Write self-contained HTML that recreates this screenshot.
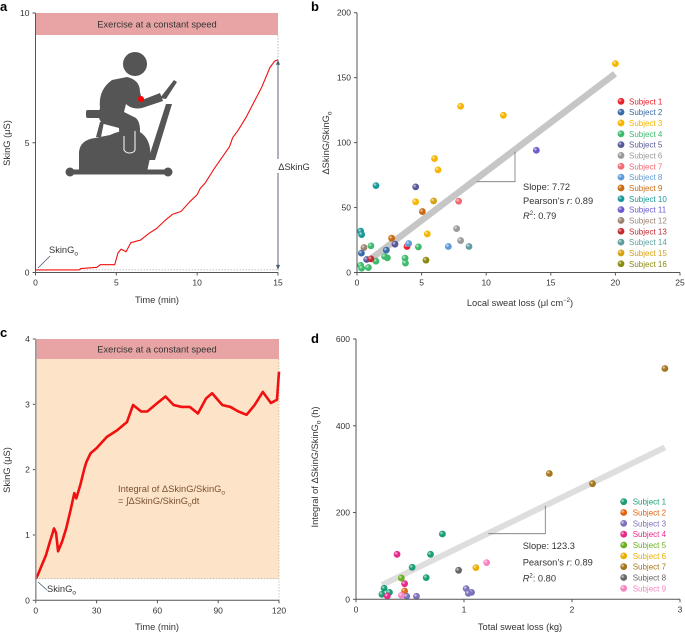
<!DOCTYPE html>
<html><head><meta charset="utf-8"><style>
html,body{margin:0;padding:0;background:#fff;}
svg{display:block;font-family:"Liberation Sans",sans-serif;}
</style></head><body>
<svg id="fig" width="685" height="635" viewBox="0 0 685 635" xmlns="http://www.w3.org/2000/svg">
<defs>
<radialGradient id="shine" cx="0.35" cy="0.35" r="0.65"><stop offset="0" stop-color="#fff" stop-opacity="0.75"/><stop offset="0.45" stop-color="#fff" stop-opacity="0"/></radialGradient>
</defs>
<!-- panel letters -->
<text x="0" y="11" font-size="13" font-weight="bold">a</text>
<text x="311" y="11" font-size="13" font-weight="bold">b</text>
<text x="0" y="337" font-size="13" font-weight="bold">c</text>
<text x="311" y="343" font-size="13" font-weight="bold">d</text>

<!-- Panel a static decor -->
<g id="panelA">
<rect x="36" y="13" width="242" height="22" fill="#e8a4a4"/>
<text x="157" y="27.5" font-size="9.3" text-anchor="middle" fill="#333">Exercise at a constant speed</text>
<g fill="#555">
<circle cx="135" cy="64" r="12"/>
<path d="M79,172 L79,152 Q80,140 95,138 L110,135 Q125,128 140,132 Q152,140 150,158 L147,172 Z"/>
<line x1="70" y1="172" x2="168" y2="172" stroke="#555" stroke-width="5"/>
<circle cx="70" cy="172" r="4.5"/><circle cx="168" cy="172" r="4.5"/>
<path d="M148,160 L166,104 L172,104 L155,160 Z"/>
<path d="M160,98 L174,80 L177,82 L166,99 Z"/>
<path d="M96,137 L100,122 L104,122 L101,137 Z"/>
<rect x="86" y="110" width="16" height="8" rx="2"/>
<path d="M100,108 Q98,90 112,80 L127,77 Q140,80 140,92 L142,100 L160,93 L163,101 L142,108 Q132,110 126,104 L124,112 L136,118 Q140,122 140,130 L139,150 Q136,156 129,156 Q122,156 120,150 L119,128 L104,124 Q96,120 100,108 Z"/>
<path d="M124,136 L124,150 Q126,153 129,153 Q134,153 135,150 L135,131" fill="none" stroke="#fff" stroke-width="1"/>
</g>
<circle cx="141" cy="99" r="3" fill="#f00"/>
</g>

<!-- Panel c decor -->
<g id="panelC"></g>
<g id="panelB"></g>
<g id="panelD"></g>
</svg>
<script>
// ---------- DATA ----------
// Panel a: SkinG trace (time min, SkinG μS)
const aTime = [0,2.7,2.8,3.8,4.0,4.5,4.9,5.1,5.3,5.6,5.9,6.5,7.0,7.5,8.0,8.5,9.0,9.5,10,10.2,10.5,11,11.5,12,12.2,12.5,13,13.5,14,14.5,14.8,15];
const aSkinG = [0.1,0.1,0.15,0.2,0.3,0.3,0.3,0.75,0.9,0.8,1.15,1.25,1.5,1.7,2.0,2.25,2.35,2.7,3.0,3.25,3.45,3.95,4.4,4.85,5.2,5.45,5.95,6.55,7.15,7.9,8.15,8.2];
const aXTicks = [0,5,10,15];
const aYTicks = [0,5,10];
// Panel c: SkinG trace over 120 min
const cTime = [0,1,3,5,7,9,10,11,13,15,17,19,20,22,24,25,27,30,35,40,45,48,52,55,60,64,68,72,76,80,84,87,92,96,100,104,108,112,116,119,120];
const cSkinG = [0.33,0.39,0.54,0.69,0.9,1.1,1.03,0.75,0.9,1.1,1.36,1.64,1.56,1.77,2.02,2.12,2.25,2.33,2.5,2.6,2.73,2.99,2.89,2.89,3.02,3.12,2.99,2.96,2.96,2.86,3.09,3.17,2.99,2.96,2.89,2.84,2.99,3.19,3.02,3.07,3.5];
const cXTicks = [0,30,60,90,120];
const cYTicks = [0,1,2,3,4];
// Panel b
const bSubjects = ["Subject 1","Subject 2","Subject 3","Subject 4","Subject 5","Subject 6","Subject 7","Subject 8","Subject 9","Subject 10","Subject 11","Subject 12","Subject 13","Subject 14","Subject 15","Subject 16"];
const bColors = ["#e8202a","#3a6aa8","#f7b500","#3dba6c","#58589a","#9a9a9a","#f26a72","#5e9ad6","#c86a12","#1a9898","#6a5ccc","#9c8474","#c22a30","#5f9ea0","#d4a214","#8a8a10"];
const bX = [[3.87],[0.34,2.27],[20.0,8.02,11.33,6.0,6.27,4.54,5.44],[1.08,1.47,2.35,2.14,3.72,3.75,4.75,0.28,0.88,0.36],[4.54,2.94,0.75],[7.71,8.02],[7.87],[4.0,7.07],[5.06,2.68],[1.47,0.28,0.36],[13.88],[0.54],[1.08],[8.67],[5.93],[5.34]];
const bY = [[20],[14.9,17.2],[160.8,128,121,87.7,79,54.4,29.7],[20.5,8.7,11.3,12.3,11,7.2,19.7,5.6,3.8,3.3],[65.9,21.8,10],[33.8,24.6],[54.9],[22.3,20],[46.9,26.4],[66.9,31.8,29.2],[94.1],[19.2],[10.5],[20],[55.1],[9.5]];
const bFitX = [1.14,19.97];
const bFitY = [11,153];
const bXTicks = [0,5,10,15,20,25];
const bYTicks = [0,50,100,150,200];
// Panel d
const dSubjects = ["Subject 1","Subject 2","Subject 3","Subject 4","Subject 5","Subject 6","Subject 7","Subject 8","Subject 9"];
const dColors = ["#1b9e77","#e0650c","#7a72bb","#e7298a","#6aae22","#eaae02","#a6761d","#666666","#f585c0"];
const dX = [[0.80,0.69,0.52,0.65,0.26,0.31,0.24],[0.45],[1.02,1.07,1.04,0.56,0.47],[0.38,0.45,0.29],[0.42],[1.11],[2.86,1.79,2.19],[0.95],[1.21,0.42]];
const dY = [[150.6,103.7,73.7,49.9,25.4,16,11.5],[19.2],[24.6,16,13.8,6.9,6.9],[103.7,36,7.7],[49],[73],[532,290,266.5],[66.8],[84.5,9.2]];
const dFitX = [0.24,2.86];
const dFitY = [33,350];
const dXTicks = [0,1,2,3];
const dYTicks = [0,200,400,600];

// ---------- helpers ----------
const NS = "http://www.w3.org/2000/svg";
function mk(parent, tag, attrs, text){
  const e = document.createElementNS(NS, tag);
  for (const k in attrs) e.setAttribute(k, attrs[k]);
  if (text !== undefined) e.textContent = text;
  parent.appendChild(e);
  return e;
}
function lin(d0,d1,p0,p1){ return v => p0 + (v-d0)*(p1-p0)/(d1-d0); }

function axes(g, sx, sy, xt, yt, x0, x1, y0, y1, prefix){
  const ax = mk(g,"line",{x1:sx(x0),y1:sy(y0),x2:sx(x1),y2:sy(y0),stroke:"#555","stroke-width":1});
  
  
  const ay = mk(g,"line",{x1:sx(x0),y1:sy(y0),x2:sx(x0),y2:sy(y1),stroke:"#555","stroke-width":1});
  
  
  xt.forEach(v=>{
    mk(g,"line",{x1:sx(v),y1:sy(y0),x2:sx(v),y2:sy(y0)+3,stroke:"#555","stroke-width":1});
    const t = mk(g,"text",{x:sx(v),y:sy(y0)+13,"font-size":8.5,"text-anchor":"middle",fill:"#333"}, String(v));
    
    
  });
  yt.forEach(v=>{
    mk(g,"line",{x1:sx(x0)-3,y1:sy(v),x2:sx(x0),y2:sy(v),stroke:"#555","stroke-width":1});
    const t = mk(g,"text",{x:sx(x0)-6,y:sy(v)+3,"font-size":8.5,"text-anchor":"end",fill:"#333"}, String(v));
    
    
  });
}
function ball(g, x, y, color, name){
  const c = mk(g,"circle",{cx:x,cy:y,r:3.4,fill:color});
  
  
  mk(g,"circle",{cx:x,cy:y,r:3.4,fill:"url(#shine)"});
}

// ---------- Panel A ----------
(function(){
  const g = document.getElementById("panelA");
  const sx = lin(0,15,35.5,278), sy = lin(0,10,272.5,13);
  mk(g,"line",{x1:sx(0),y1:sy(0.1),x2:sx(15),y2:sy(0.1),stroke:"#aaa","stroke-dasharray":"1.5,1.5","stroke-width":0.8});
  mk(g,"line",{x1:sx(15),y1:35,x2:sx(15),y2:sy(0),stroke:"#aaa","stroke-dasharray":"1.5,1.5","stroke-width":0.8});
  const pts = aTime.map((t,i)=>sx(t)+","+sy(aSkinG[i])).join(" ");
  const pl = mk(g,"polyline",{points:pts,fill:"none",stroke:"#f01010","stroke-width":1.1,"stroke-linejoin":"round"});
  
  
  // delta arrow
  const top = sy(aSkinG[aSkinG.length-1]), bot = sy(aSkinG[0]);
  mk(g,"line",{x1:sx(15),y1:top+2,x2:sx(15),y2:bot-2,stroke:"#4a5a70","stroke-width":0.9});
  mk(g,"path",{d:`M${sx(15)-2},${top+5} L${sx(15)},${top} L${sx(15)+2},${top+5}Z M${sx(15)-2},${bot-5} L${sx(15)},${bot} L${sx(15)+2},${bot-5}Z`,fill:"#4a5a70"});
  mk(g,"rect",{x:257,y:159,width:40,height:14,fill:"#fff"});
  const dl = mk(g,"text",{x:294,y:170,"font-size":9.3,"text-anchor":"middle",fill:"#333"},"ΔSkinG");
  
  
  mk(g,"line",{x1:50,y1:256,x2:38,y2:268,stroke:"#4a5a70","stroke-width":0.8});
  const s0 = mk(g,"text",{x:49,y:253,"font-size":9.3,fill:"#333"});
  
  
  s0.innerHTML = 'SkinG<tspan font-size="6.5" dy="2.5">o</tspan>';
  axes(g,sx,sy,aXTicks,aYTicks,0,15,0,10,"a");
  const xl = mk(g,"text",{x:157,y:303,"font-size":9.3,"text-anchor":"middle",fill:"#333"},"Time (min)");
  
  
  const yl = mk(g,"text",{x:0,y:0,"font-size":9.3,"text-anchor":"middle",fill:"#333",transform:"translate(10,143) rotate(-90)"},"SkinG (μS)");
  
  
})();

// ---------- Panel C ----------
(function(){
  const g = document.getElementById("panelC");
  const sx = lin(0,120,35.8,279), sy = lin(0,4,600.3,339);
  const band = 359;
  const base = sy(cSkinG[0]);
  const fill = mk(g,"rect",{x:sx(0),y:band,width:sx(120)-sx(0),height:base-band,fill:"#fde4c8"});
  
  
  mk(g,"line",{x1:sx(0),y1:base,x2:sx(120),y2:base,stroke:"#aaa","stroke-dasharray":"1.5,1.5","stroke-width":0.8});
  mk(g,"line",{x1:sx(120),y1:band,x2:sx(120),y2:sy(0),stroke:"#bbb","stroke-dasharray":"1.5,1.5","stroke-width":0.8});
  const br = mk(g,"rect",{x:sx(0),y:339,width:sx(120)-sx(0),height:band-339,fill:"#e8a4a4"});
  
  
  const bt = mk(g,"text",{x:157,y:352.5,"font-size":9.3,"text-anchor":"middle",fill:"#333"},"Exercise at a constant speed");
  
  
  const pts = cTime.map((t,i)=>sx(t)+","+sy(cSkinG[i])).join(" ");
  const pl = mk(g,"polyline",{points:pts,fill:"none",stroke:"#f01010","stroke-width":2.6,"stroke-linejoin":"round"});
  
  
  const t1 = mk(g,"text",{x:118,y:492,"font-size":9.3,fill:"#7a5030"});
  
  
  t1.innerHTML = 'Integral of ΔSkinG/SkinG<tspan font-size="6.5" dy="2.5">o</tspan>';
  const t2 = mk(g,"text",{x:118,y:504,"font-size":9.3,fill:"#7a5030"});
  
  
  t2.innerHTML = '= ∫ΔSkinG/SkinG<tspan font-size="6.5" dy="2.5">o</tspan><tspan dy="-2.5">dt</tspan>';
  mk(g,"line",{x1:47,y1:590,x2:38,y2:582,stroke:"#4a5a70","stroke-width":0.8});
  const s0 = mk(g,"text",{x:47,y:592,"font-size":9.3,fill:"#333"});
  
  
  s0.innerHTML = 'SkinG<tspan font-size="6.5" dy="2.5">o</tspan>';
  axes(g,sx,sy,cXTicks,cYTicks,0,120,0,4,"c");
  g.lastChild && null;
  mk(g,"line",{x1:sx(0),y1:sy(0),x2:sx(0),y2:sy(4),stroke:"#999","stroke-width":1.6});
  const xl = mk(g,"text",{x:157,y:630,"font-size":9.3,"text-anchor":"middle",fill:"#333"},"Time (min)");
  
  
  const yl = mk(g,"text",{x:0,y:0,"font-size":9.3,"text-anchor":"middle",fill:"#333",transform:"translate(10,470) rotate(-90)"},"SkinG (μS)");
  
  
})();

// ---------- Panel B ----------
(function(){
  const g = document.getElementById("panelB");
  const sx = lin(0,25,357,680), sy = lin(0,200,272.5,12.7);
  const fl = mk(g,"line",{x1:sx(bFitX[0]),y1:sy(bFitY[0]),x2:sx(bFitX[1]),y2:sy(bFitY[1]),stroke:"#c6c6c6","stroke-width":6.5});
  
  
  mk(g,"polyline",{points:"476.7,181.7 515,181.7 515,151.7",fill:"none",stroke:"#777","stroke-width":0.8});
  const lines = ['Slope: 7.72','Pearson’s <tspan font-style="italic">r</tspan>: 0.89','<tspan font-style="italic">R</tspan><tspan font-size="6" dy="-4">2</tspan><tspan dy="4">: 0.79</tspan>'];
  [190,204,219].forEach((y,i)=>{
    const t = mk(g,"text",{x:523,y:y,"font-size":9.3,fill:"#333"});
    
    
    t.innerHTML = lines[i];
  });
  bX.forEach((xs,s)=>xs.forEach((x,j)=>ball(g,sx(x),sy(bY[s][j]),bColors[s],'point-b-subject-'+(s+1))));
  bSubjects.forEach((name,i)=>{
    const y = 101.3 + i*10.83;
    ball(g,621,y,bColors[i],'legend-marker-b');
    const t = mk(g,"text",{x:629,y:y+3,"font-size":8,fill:bColors[i]},name);
    
    
  });
  axes(g,sx,sy,bXTicks,bYTicks,0,25,0,200,"b");
  const xl = mk(g,"text",{x:520,y:306,"font-size":9.3,"text-anchor":"middle",fill:"#333"});
  
  
  xl.innerHTML = 'Local sweat loss (μl cm<tspan font-size="6" dy="-4">−2</tspan><tspan dy="4">)</tspan>';
  const yl = mk(g,"text",{x:0,y:0,"font-size":9.3,"text-anchor":"middle",fill:"#333",transform:"translate(329,143) rotate(-90)"});
  
  
  yl.innerHTML = 'ΔSkinG/SkinG<tspan font-size="6.5" dy="2.5">o</tspan>';
})();

// ---------- Panel D ----------
(function(){
  const g = document.getElementById("panelD");
  const sx = lin(0,3,356,680), sy = lin(0,600,599.3,339);
  const fl = mk(g,"line",{x1:sx(dFitX[0]),y1:sy(dFitY[0]),x2:sx(dFitX[1]),y2:sy(dFitY[1]),stroke:"#dedede","stroke-width":6});
  
  
  mk(g,"polyline",{points:"488.3,533.7 545.3,533.7 545.3,505.7",fill:"none",stroke:"#777","stroke-width":0.8});
  const lines = ['Slope: 123.3','Pearson’s <tspan font-style="italic">r</tspan>: 0.89','<tspan font-style="italic">R</tspan><tspan font-size="6" dy="-4">2</tspan><tspan dy="4">: 0.80</tspan>'];
  [549,565.5,581.5].forEach((y,i)=>{
    const t = mk(g,"text",{x:522.7,y:y,"font-size":9.3,fill:"#333"});
    
    
    t.innerHTML = lines[i];
  });
  dX.forEach((xs,s)=>xs.forEach((x,j)=>ball(g,sx(x),sy(dY[s][j]),dColors[s],'point-d-subject-'+(s+1))));
  dSubjects.forEach((name,i)=>{
    const y = 501.7 + i*10.83;
    ball(g,623.7,y,dColors[i],'legend-marker-d');
    const t = mk(g,"text",{x:632.7,y:y+3,"font-size":8,fill:dColors[i]},name);
    
    
  });
  axes(g,sx,sy,dXTicks,dYTicks,0,3,0,600,"d");
  const xl = mk(g,"text",{x:520,y:630,"font-size":9.3,"text-anchor":"middle",fill:"#333"},"Total sweat loss (kg)");
  
  
  const yl = mk(g,"text",{x:0,y:0,"font-size":9.3,"text-anchor":"middle",fill:"#333",transform:"translate(318,467) rotate(-90)"});
  
  
  yl.innerHTML = 'Integral of ΔSkinG/SkinG<tspan font-size="6.5" dy="2.5">o</tspan><tspan dy="-2.5"> (h)</tspan>';
})();
</script>
</body></html>
